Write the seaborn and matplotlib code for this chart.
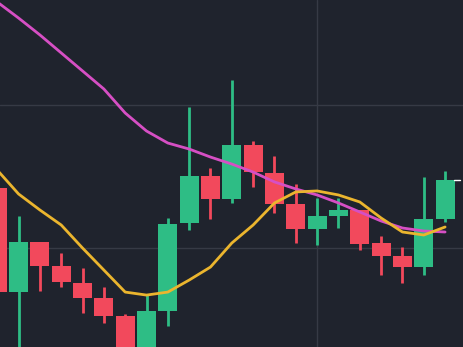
import matplotlib
matplotlib.use("Agg")
import matplotlib.pyplot as plt
import seaborn as sns
import numpy as np
import pandas as pd

# ---- data ----
opens  = [104.20, 96.92, 100.42, 98.74, 97.55, 96.50, 95.24, 92.17, 95.59, 101.75, 105.03,
          103.43, 107.20, 105.24, 103.08, 101.33, 102.24, 102.66, 100.35, 99.44, 98.67, 102.03]
highs  = [104.20, 102.24, 100.42, 99.65, 98.60, 97.27, 95.38, 96.71, 102.10, 109.86, 105.59,
          111.75, 107.48, 106.43, 104.48, 103.50, 103.50, 102.66, 100.84, 100.07, 104.97, 105.38]
lows   = [96.92, 92.17, 96.99, 97.27, 95.45, 94.76, 91.33, 91.47, 94.55, 101.26, 102.03,
          103.15, 104.27, 102.45, 100.35, 100.21, 101.40, 99.86, 98.11, 97.55, 98.11, 101.82]
closes = [96.92, 100.42, 98.74, 97.62, 96.50, 95.24, 91.82, 95.59, 101.68, 105.03, 103.43,
          107.20, 105.31, 103.08, 101.33, 102.24, 102.66, 100.28, 99.44, 98.67, 102.03, 104.76]
ma_slow = [117.20, 116.08, 114.90, 113.64, 112.38, 111.12, 109.44, 108.18, 107.34, 106.92, 106.36,
           105.87, 105.31, 104.62, 104.13, 103.71, 103.15, 102.52, 101.89, 101.40, 101.19, 101.12]
ma_fast = [105.45, 103.78, 102.66, 101.61, 100.00, 98.46, 96.92, 96.71, 96.92, 97.76, 98.67,
           100.35, 101.61, 103.15, 103.92, 103.99, 103.71, 103.22, 102.10, 101.12, 100.91, 101.47]

BG = "#1f232d"
GRID = "#363a45"
UP = "#2ebd85"
DOWN = "#f2495c"
SLOW_C = "#d64fc4"
FAST_C = "#ebb52e"

sns.set_theme(style="dark", rc={"axes.facecolor": BG, "figure.facecolor": BG})

df = pd.DataFrame({"open": opens, "high": highs, "low": lows, "close": closes,
                   "ma_slow": ma_slow, "ma_fast": ma_fast})
df["idx"] = np.arange(len(df))

fig = plt.figure(figsize=(4.63, 3.47), dpi=100)
ax = fig.add_axes([0, 0, 1, 1])
ax.set_facecolor(BG)

# grid
ax.set_xticks([15])
ax.set_yticks([100, 110])
ax.grid(True, color=GRID, linewidth=1.0)
ax.set_axisbelow(True)

colors = [UP if c >= o else DOWN for o, c in zip(df["open"], df["close"])]
ax.vlines(df["idx"], df["low"], df["high"], colors=colors, linewidth=2.0, zorder=2)
bottoms = np.minimum(df["open"], df["close"])
heights = np.abs(df["close"] - df["open"])
ax.bar(df["idx"], heights, bottom=bottoms, width=0.89, color=colors, zorder=3, linewidth=0)

sns.lineplot(data=df, x="idx", y="ma_slow", color=SLOW_C, linewidth=2.0, ax=ax, zorder=4)
sns.lineplot(data=df, x="idx", y="ma_fast", color=FAST_C, linewidth=2.0, ax=ax, zorder=5)

# last price marker
last = df["close"].iloc[-1]
ax.plot([len(df) - 1 + 0.44, len(df) - 1 + 0.72], [last, last], color="white", linewidth=1.0, zorder=6)

ax.set_xlim(0.13, 21.84)
ax.set_ylim(93.08, 117.34)
ax.set_xlabel("")
ax.set_ylabel("")
ax.tick_params(left=False, bottom=False, labelleft=False, labelbottom=False)
for s in ax.spines.values():
    s.set_visible(False)

fig.savefig("out.png", dpi=100, facecolor=BG)
